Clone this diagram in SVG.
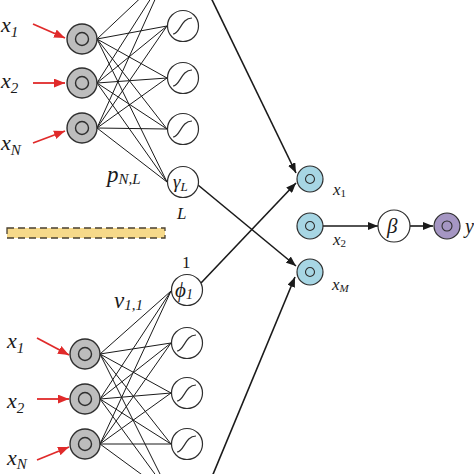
<svg xmlns="http://www.w3.org/2000/svg" xmlns:xlink="http://www.w3.org/1999/xlink" width="474" height="474" viewBox="0 0 474 474">
<style>
.w{stroke:#1a1a1a;stroke-width:1;fill:none}
.a{stroke:#1a1a1a;stroke-width:1.6;fill:none}
.r{stroke:#e02a2a;stroke-width:1.8;fill:none}
.in{fill:#bdbdbd;stroke:#2e2e2e;stroke-width:1.4}
.hid{fill:#fff;stroke:#2e2e2e;stroke-width:1.2}
.bl{fill:#a7d6e4;stroke:#2e2e2e;stroke-width:1.2}
.pu{fill:#a596c3;stroke:#2e2e2e;stroke-width:1.2}
.ring{fill:none;stroke:#2e2e2e;stroke-width:1.1}
.sig{fill:none;stroke:#2e2e2e;stroke-width:1.2}
text{font-family:"Liberation Serif","Times New Roman",serif;fill:#1a1a1a}
.it{font-style:italic}
</style>
<defs>
<marker id="ah" viewBox="0 0 10 8" refX="10" refY="4" markerWidth="10" markerHeight="8" markerUnits="userSpaceOnUse" orient="auto"><path d="M0,0 L10,4 L0,8 Z" fill="#1a1a1a"/></marker>
<marker id="rh" viewBox="0 0 10 8" refX="10" refY="4" markerWidth="11" markerHeight="9" markerUnits="userSpaceOnUse" orient="auto"><path d="M0,0 L10,4 L0,8 Z" fill="#e02a2a"/></marker>
<g id="inNode"><circle r="15" class="in"/><circle r="6.5" class="in"/></g>
<g id="sigNode"><circle r="15.5" class="hid"/><path class="sig" d="M-10,8 C-3,8 -2,-8 9,-8"/></g>
<g id="blNode"><circle r="13" class="bl"/><circle r="4.5" class="ring"/></g>
</defs>

<g id="connectors">
<g class="w">
<path d="M97,39 L167,-27 M97,39 L167,26 M97,39 L167,78 M97,39 L167,129 M97,39 L167,182"/>
<path d="M97,83 L167,-27 M97,83 L167,26 M97,83 L167,78 M97,83 L167,129 M97,83 L167,182"/>
<path d="M97,128 L167,-27 M97,128 L167,26 M97,128 L167,78 M97,128 L167,129 M97,128 L167,182"/>
</g>
<g class="w">
<path d="M100,354 L171,291 M100,354 L171,343 M100,354 L171,393 M100,354 L171,444 M100,354 L171,496"/>
<path d="M100,399 L171,291 M100,399 L171,343 M100,399 L171,393 M100,399 L171,444 M100,399 L171,496"/>
<path d="M100,444 L171,291 M100,444 L171,343 M100,444 L171,393 M100,444 L171,444 M100,444 L171,496"/>
</g>
<g class="r">
<line x1="33" y1="24" x2="65" y2="38" marker-end="url(#rh)"/>
<line x1="33" y1="83" x2="65" y2="83" marker-end="url(#rh)"/>
<line x1="33" y1="143" x2="65" y2="131" marker-end="url(#rh)"/>
<line x1="37" y1="338" x2="69" y2="355" marker-end="url(#rh)"/>
<line x1="37" y1="399" x2="69" y2="399" marker-end="url(#rh)"/>
<line x1="37" y1="460" x2="69" y2="447" marker-end="url(#rh)"/>
</g>
<g class="a">
<line x1="199" y1="-27" x2="296" y2="173" marker-end="url(#ah)"/>
<line x1="201" y1="283" x2="296" y2="183" marker-end="url(#ah)"/>
<line x1="198" y1="185" x2="296" y2="266" marker-end="url(#ah)"/>
<line x1="204" y1="496" x2="295" y2="277" marker-end="url(#ah)"/>
<line x1="323" y1="226" x2="378" y2="226" marker-end="url(#ah)"/>
<line x1="410" y1="226" x2="433" y2="226" marker-end="url(#ah)"/>
</g>
</g>

<rect id="separator" x="7" y="228" width="158" height="10" fill="#f6d98a" stroke="#4a4030" stroke-width="1.3" stroke-dasharray="7,4"/>

<g id="top-inputs">
<use xlink:href="#inNode" x="82" y="39"/>
<use xlink:href="#inNode" x="82" y="83"/>
<use xlink:href="#inNode" x="82" y="128"/>
<text class="it" x="1" y="32" font-size="22">x<tspan font-size="15" dy="5">1</tspan></text>
<text class="it" x="1" y="88" font-size="22">x<tspan font-size="15" dy="5">2</tspan></text>
<text class="it" x="1" y="150" font-size="22">x<tspan font-size="15" dy="5">N</tspan></text>
</g>

<g id="top-hidden">
<use xlink:href="#sigNode" x="183" y="26"/>
<use xlink:href="#sigNode" x="183" y="78"/>
<use xlink:href="#sigNode" x="183" y="129"/>
</g>
<g id="gammaL">
<circle cx="183" cy="182" r="15.5" class="hid"/>
<text class="it" x="173" y="188" font-size="19">γ<tspan font-size="13" dy="3">L</tspan></text>
<text class="it" x="177" y="219" font-size="17">L</text>
</g>
<text class="it" x="107" y="182" font-size="23">p<tspan font-size="15" dy="2">N,L</tspan></text>

<g id="bottom-inputs">
<use xlink:href="#inNode" x="85" y="354"/>
<use xlink:href="#inNode" x="85" y="399"/>
<use xlink:href="#inNode" x="85" y="444"/>
<text class="it" x="7" y="348" font-size="22">x<tspan font-size="15" dy="5">1</tspan></text>
<text class="it" x="7" y="408" font-size="22">x<tspan font-size="15" dy="5">2</tspan></text>
<text class="it" x="7" y="465" font-size="22">x<tspan font-size="15" dy="4">N</tspan></text>
</g>

<g id="phi1">
<circle cx="187" cy="290" r="15.5" class="hid"/>
<text class="it" x="175" y="297" font-size="21">ϕ<tspan font-size="14" dy="2">1</tspan></text>
<text x="182" y="268" font-size="17">1</text>
</g>
<text class="it" x="114" y="308" font-size="23">v<tspan font-size="15" dy="2">1,1</tspan></text>

<g id="bottom-hidden">
<use xlink:href="#sigNode" x="187" y="343"/>
<use xlink:href="#sigNode" x="187" y="393"/>
<use xlink:href="#sigNode" x="187" y="444"/>
</g>

<g id="node-x1">
<use xlink:href="#blNode" x="310" y="179"/>
<text class="it" x="333" y="195" font-size="17">x<tspan font-style="normal" font-size="11" dy="2">1</tspan></text>
</g>
<g id="node-x2">
<use xlink:href="#blNode" x="310" y="226"/>
<text class="it" x="333" y="245" font-size="17">x<tspan font-style="normal" font-size="11" dy="2">2</tspan></text>
</g>
<g id="node-xM">
<use xlink:href="#blNode" x="310" y="272"/>
<text class="it" x="332" y="290" font-size="17">x<tspan font-size="11" dy="2">M</tspan></text>
</g>
<g id="node-beta">
<circle cx="394" cy="226" r="16" class="hid"/>
<text class="it" x="387" y="233" font-size="21">β</text>
</g>
<g id="node-y">
<circle cx="447" cy="226" r="13" class="pu"/>
<circle cx="447" cy="226" r="5" class="ring" stroke="#3c2f6a"/>
<text class="it" x="465" y="233" font-size="20">y</text>
</g>
</svg>
